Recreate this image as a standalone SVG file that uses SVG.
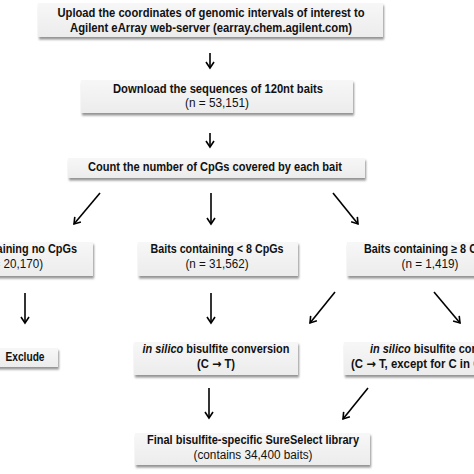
<svg xmlns="http://www.w3.org/2000/svg" width="474" height="474" viewBox="0 0 474 474">
<defs>
<filter id="sh" x="-10%" y="-20%" width="130%" height="160%">
<feDropShadow dx="1" dy="2.5" stdDeviation="1" flood-color="#777" flood-opacity="0.8"/>
</filter>
<linearGradient id="g" x1="0" y1="0" x2="0" y2="1">
<stop offset="0" stop-color="#f7f7f7"/>
<stop offset="1" stop-color="#ececec"/>
</linearGradient>
<marker id="ah" markerWidth="10" markerHeight="10" refX="7" refY="5" orient="auto" markerUnits="userSpaceOnUse">
<polyline points="1,1 7,5 1,9" fill="none" stroke="#000" stroke-width="1.6"/>
</marker>
</defs>
<style>
.box{fill:url(#g);filter:url(#sh);}
.b{font-family:"Liberation Sans",Arial,sans-serif;font-size:12px;font-weight:bold;fill:#111;}
.r{font-family:"Liberation Sans",Arial,sans-serif;font-size:12px;fill:#111;}
.c{text-anchor:middle;}
.e{text-anchor:end;}
.ar{font-family:"DejaVu Sans",sans-serif;}
.conn line{stroke:#000;stroke-width:1.6;marker-end:url(#ah);}
</style>
<rect width="474" height="474" fill="#fff"/>
<g id="upload">
<rect class="box" x="38" y="3" width="345" height="34"/>
<text class="b c" x="211" y="17" textLength="307" lengthAdjust="spacingAndGlyphs">Upload the coordinates of genomic intervals of interest to</text>
<text class="b c" x="211" y="32" textLength="282" lengthAdjust="spacingAndGlyphs">Agilent eArray web-server (earray.chem.agilent.com)</text>
</g>
<g id="download">
<rect class="box" x="81" y="80" width="272" height="33"/>
<text class="b c" x="218" y="93" textLength="210" lengthAdjust="spacingAndGlyphs">Download the sequences of 120nt baits</text>
<text class="r c" x="217" y="107" textLength="64" lengthAdjust="spacingAndGlyphs">(n = 53,151)</text>
</g>
<g id="count">
<rect class="box" x="68" y="158" width="297" height="20"/>
<text class="b c" x="215" y="171" textLength="254" lengthAdjust="spacingAndGlyphs">Count the number of CpGs covered by each bait</text>
</g>
<g id="nocpg">
<rect class="box" x="-72" y="242" width="165" height="34"/>
<text class="b e" x="77" y="253" textLength="133" lengthAdjust="spacingAndGlyphs">Baits containing no CpGs</text>
<text class="r e" x="43" y="268" textLength="63" lengthAdjust="spacingAndGlyphs">(n = 20,170)</text>
</g>
<g id="lt8">
<rect class="box" x="138" y="242" width="160" height="34"/>
<text class="b c" x="217" y="253" textLength="133" lengthAdjust="spacingAndGlyphs">Baits containing &lt; 8 CpGs</text>
<text class="r c" x="217" y="268" textLength="63" lengthAdjust="spacingAndGlyphs">(n = 31,562)</text>
</g>
<g id="ge8">
<rect class="box" x="347" y="242" width="166" height="34"/>
<text class="b" x="364" y="253" textLength="134" lengthAdjust="spacingAndGlyphs">Baits containing ≥ 8 CpGs</text>
<text class="r c" x="430" y="268" textLength="57" lengthAdjust="spacingAndGlyphs">(n = 1,419)</text>
</g>
<g id="exclude">
<rect class="box" x="-8" y="348" width="66" height="19"/>
<text class="b c" x="25" y="361" textLength="39" lengthAdjust="spacingAndGlyphs">Exclude</text>
</g>
<g id="conv1">
<rect class="box" x="134" y="342" width="164" height="33"/>
<text class="b c" x="216" y="353" textLength="147" lengthAdjust="spacingAndGlyphs"><tspan font-style="italic">in silico</tspan> bisulfite conversion</text>
<text class="b c" x="216" y="368" textLength="38" lengthAdjust="spacingAndGlyphs">(C <tspan class="ar">→</tspan> T)</text>
</g>
<g id="conv2">
<rect class="box" x="344" y="342" width="200" height="33"/>
<text class="b" x="370" y="353" textLength="147" lengthAdjust="spacingAndGlyphs"><tspan font-style="italic">in silico</tspan> bisulfite conversion</text>
<text class="b" x="351" y="368" textLength="150" lengthAdjust="spacingAndGlyphs">(C <tspan class="ar">→</tspan> T, except for C in CpG)</text>
</g>
<g id="final">
<rect class="box" x="135" y="433" width="235" height="32"/>
<text class="b c" x="253" y="444" textLength="212" lengthAdjust="spacingAndGlyphs">Final bisulfite-specific SureSelect library</text>
<text class="r c" x="253" y="459" textLength="119" lengthAdjust="spacingAndGlyphs">(contains 34,400 baits)</text>
</g>
<g class="conn" id="connectors">
<line x1="210" y1="53" x2="210" y2="68"/>
<line x1="210" y1="133" x2="210" y2="147"/>
<line x1="100" y1="193" x2="74" y2="224"/>
<line x1="211" y1="193" x2="211" y2="224"/>
<line x1="333" y1="193" x2="358" y2="224"/>
<line x1="25" y1="293" x2="25" y2="323"/>
<line x1="211" y1="293" x2="211" y2="323"/>
<line x1="335" y1="292" x2="310" y2="323"/>
<line x1="434" y1="292" x2="460" y2="323"/>
<line x1="209" y1="388" x2="209" y2="418"/>
<line x1="368" y1="388" x2="343" y2="419"/>
</g>
</svg>
